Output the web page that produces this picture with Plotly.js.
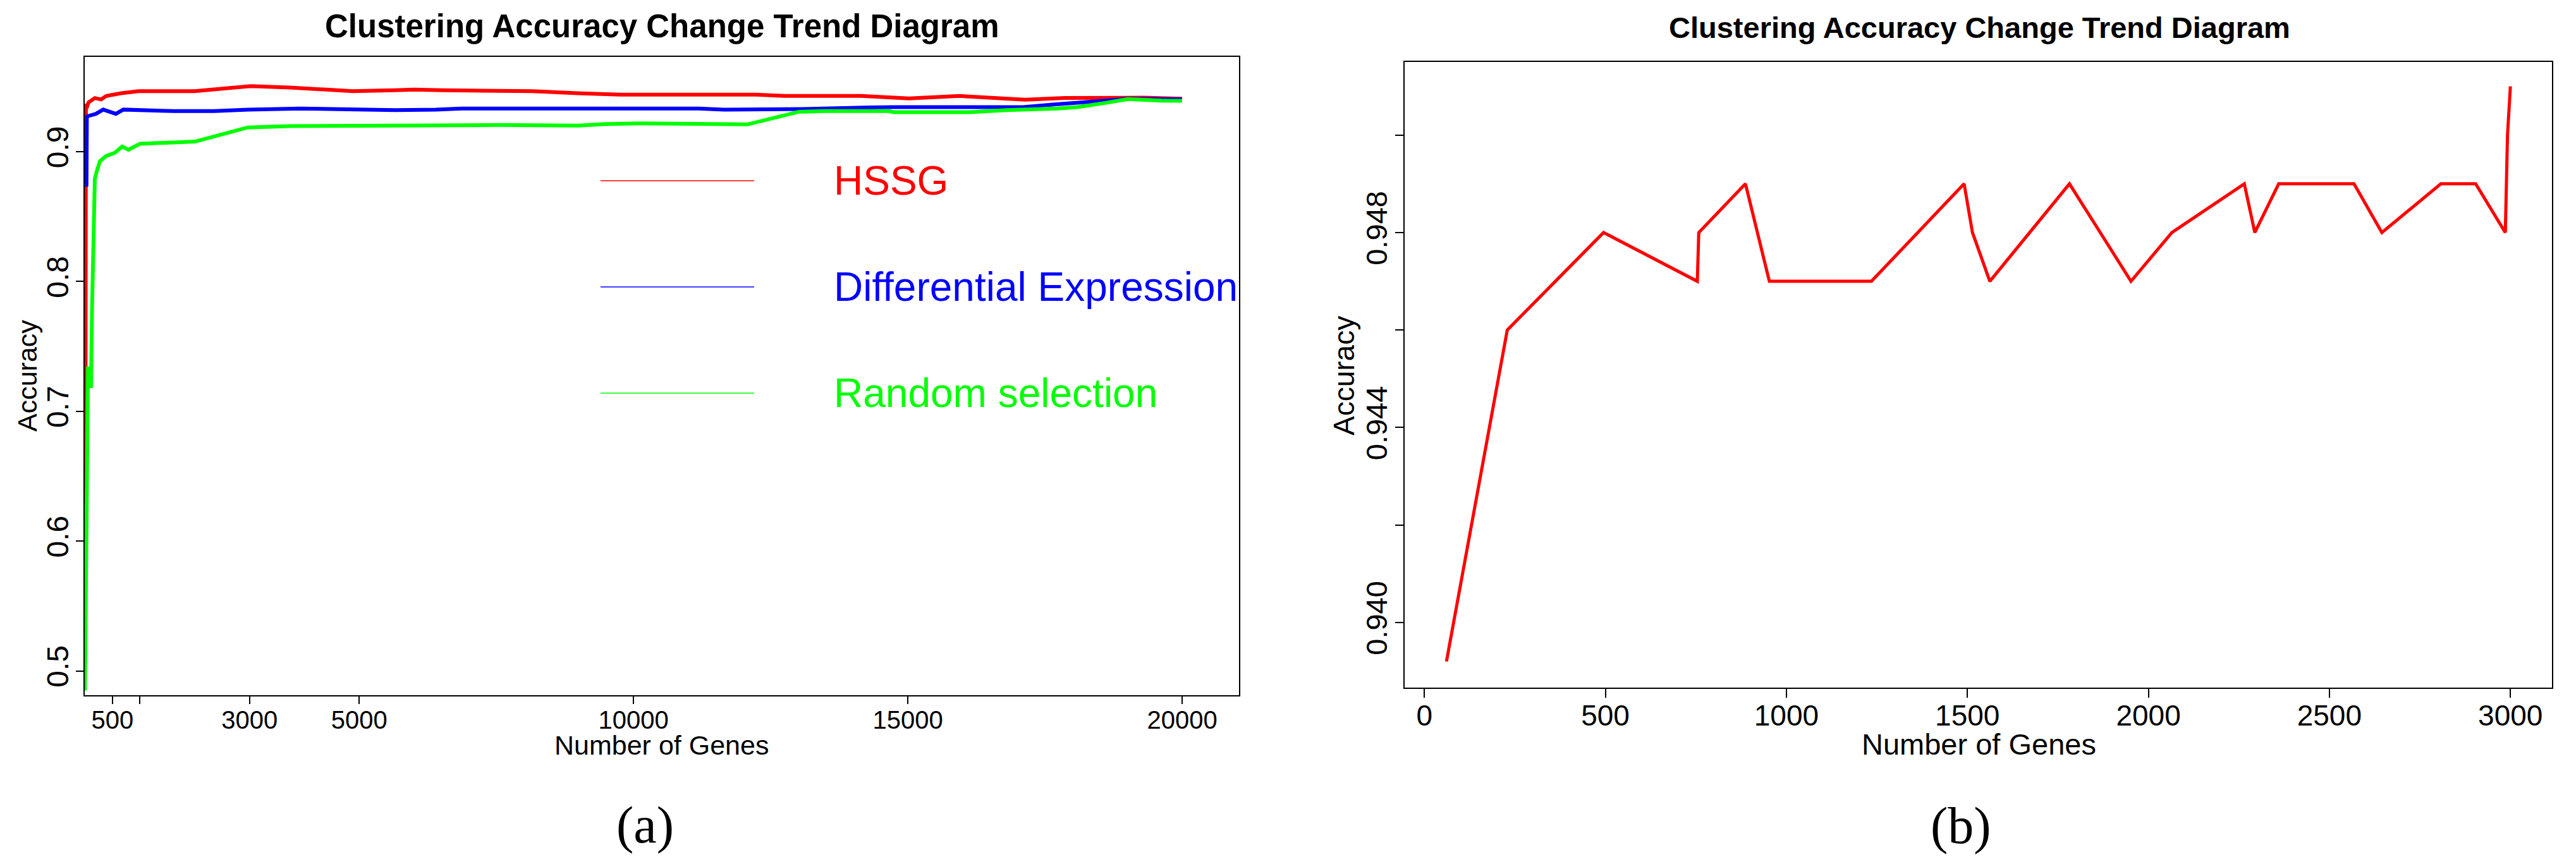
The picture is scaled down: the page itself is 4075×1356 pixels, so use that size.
<!DOCTYPE html>
<html>
<head>
<meta charset="utf-8">
<script src="https://cdn.plot.ly/plotly-3.0.1.min.js"></script>
<style>html,body{margin:0;padding:0;background:#fff;}#chart{width:4075px;height:1356px;}</style>
</head>
<body>
<div id="chart"></div>
<script>
// ---------- Panel (a): accuracy vs number of genes ----------
const genesHSSG = [8, 18, 30, 64, 180, 295, 390, 660, 980, 2000, 3020, 3730, 4880, 5650, 6000, 6500, 7440, 8160, 8980, 9760, 12230, 12750, 14150, 15020, 15950, 17140, 17860, 19300, 20000];
const accHSSG   = [0.628, 0.937, 0.9335, 0.938, 0.9414, 0.9403, 0.943, 0.9451, 0.9467, 0.9467, 0.9506, 0.9495, 0.9467, 0.9474, 0.9479, 0.9474, 0.9467, 0.9467, 0.9451, 0.944, 0.944, 0.943, 0.943, 0.9411, 0.943, 0.9401, 0.9414, 0.9417, 0.9409];

const genesDE = [28, 35, 64, 199, 333, 564, 699, 968, 1621, 2351, 2966, 3926, 5655, 6395, 6862, 11190, 11653, 13219, 13960, 14300, 14744, 17100, 17675, 18140, 18600, 19015, 20000];
const accDE   = [0.873, 0.927, 0.9276, 0.9292, 0.9325, 0.9292, 0.9325, 0.9321, 0.9313, 0.9313, 0.9325, 0.9333, 0.9321, 0.9325, 0.9333, 0.9333, 0.9325, 0.933, 0.9333, 0.9341, 0.9344, 0.9344, 0.9365, 0.9376, 0.9394, 0.9409, 0.9403];

const genesRandom = [0, 18, 33, 45, 56, 95, 110, 130, 160, 180, 218, 274, 390, 544, 678, 793, 1006, 2004, 2966, 3734, 5655, 7531, 8984, 9497, 10117, 12079, 13010, 13462, 14650, 14744, 16130, 16800, 17727, 18086, 18600, 19015, 19630, 20000];
const accRandom   = [0.485, 0.589, 0.662, 0.718, 0.733, 0.733, 0.718, 0.780, 0.826, 0.879, 0.8854, 0.8927, 0.8968, 0.8992, 0.904, 0.9016, 0.9062, 0.9078, 0.9187, 0.9198, 0.9201, 0.9206, 0.9201, 0.9214, 0.9219, 0.9211, 0.9308, 0.9313, 0.9313, 0.9305, 0.9305, 0.9321, 0.9333, 0.9344, 0.9376, 0.9406, 0.9394, 0.9393];

const ticksA_x = [500, 1000, 3000, 5000, 10000, 15000, 20000];
const ticksA_xText = ['500', '', '3000', '5000', '10000', '15000', '20000'];
const ticksA_y = [0.5, 0.6, 0.7, 0.8, 0.9];
const ticksA_yText = ['0.5', '0.6', '0.7', '0.8', '0.9'];

// ---------- Panel (b): HSSG, first 3000 genes ----------
const genesZoom = [61, 229, 495, 754, 758, 887, 953, 1235, 1491, 1514, 1562, 1782, 1952, 2065, 2265, 2294, 2360, 2568, 2645, 2808, 2904, 2986, 2992, 3000];
const accZoom   = [0.9392, 0.946, 0.948, 0.947, 0.948, 0.949, 0.947, 0.947, 0.949, 0.948, 0.947, 0.949, 0.947, 0.948, 0.949, 0.948, 0.949, 0.949, 0.948, 0.949, 0.949, 0.948, 0.950, 0.951];

const ticksB_x = [0, 500, 1000, 1500, 2000, 2500, 3000];
const ticksB_y = [0.940, 0.942, 0.944, 0.946, 0.948, 0.950];
const ticksB_yText = ['0.940', '', '0.944', '', '0.948', ''];

const seriesNames = ['HSSG', 'Differential Expression', 'Random selection'];
const seriesColors = ['#ff0000', '#0000ff', '#00ff00'];

const titleText = 'Clustering Accuracy Change Trend Diagram';
const xTitleText = 'Number of Genes';
const yTitleText = 'Accuracy';

// ---------- figure ----------
const SANS = 'Liberation Sans, Arial, Helvetica, sans-serif';
const SERIF = 'Liberation Serif, Times New Roman, serif';

const traces = [
  {x: genesHSSG, y: accHSSG, name: seriesNames[0], xaxis: 'x', yaxis: 'y', mode: 'lines', line: {color: seriesColors[0], width: 6}},
  {x: genesDE, y: accDE, name: seriesNames[1], xaxis: 'x', yaxis: 'y', mode: 'lines', line: {color: seriesColors[1], width: 6}},
  {x: genesRandom, y: accRandom, name: seriesNames[2], xaxis: 'x', yaxis: 'y', mode: 'lines', line: {color: seriesColors[2], width: 6}},
  {x: genesZoom, y: accZoom, name: 'HSSG', xaxis: 'x2', yaxis: 'y2', mode: 'lines', line: {color: seriesColors[0], width: 5}}
];

function axisBase(extra) {
  return Object.assign({
    showline: true, mirror: true, linecolor: '#000', linewidth: 2,
    ticks: 'outside', tickcolor: '#000', tickwidth: 2,
    showgrid: false, zeroline: false, fixedrange: true,
    tickmode: 'array'
  }, extra);
}

const layout = {
  width: 4075, height: 1356,
  margin: {l: 0, r: 0, t: 0, b: 0, pad: 0},
  paper_bgcolor: '#fff', plot_bgcolor: '#fff',
  showlegend: false,
  xaxis: axisBase({domain: [133.5/4075, 1960/4075], range: [-10, 21037], tickvals: ticksA_x, ticktext: ticksA_xText, ticklen: 12, ticklabelstandoff: -9, tickfont: {family: SANS, size: 40, color: '#000'}, anchor: 'y'}),
  yaxis: axisBase({domain: [1 - 1100/1356, 1 - 90/1356], range: [0.4813, 0.9731], tickvals: ticksA_y, ticktext: ticksA_yText, ticklen: 12, tickangle: -90, ticklabelstandoff: -8, tickfont: {family: SANS, size: 48, color: '#000'}, anchor: 'x'}),
  xaxis2: axisBase({domain: [2222.3/4075, 4036.5/4075], range: [-54, 3114], tickvals: ticksB_x, ticktext: ticksB_x.map(String), ticklen: 14, ticklabelstandoff: -12, tickfont: {family: SANS, size: 46, color: '#000'}, anchor: 'y2'}),
  yaxis2: axisBase({domain: [1 - 1088.3/1356, 1 - 98/1356], range: [0.93866, 0.9515], tickvals: ticksB_y, ticktext: ticksB_yText, ticklen: 13, tickangle: -90, ticklabelstandoff: -5, tickfont: {family: SANS, size: 47, color: '#000'}, anchor: 'x2'}),
  annotations: [
    {text: titleText, xref: 'paper', yref: 'paper', x: 1047/4075, y: 1 - 41.5/1356, xanchor: 'center', yanchor: 'middle', showarrow: false, font: {family: SANS, size: 51, weight: 'bold', color: '#000'}},
    {text: titleText, xref: 'paper', yref: 'paper', x: 3131/4075, y: 1 - 43/1356, xanchor: 'center', yanchor: 'middle', showarrow: false, font: {family: SANS, size: 47, weight: 'bold', color: '#000'}},
    {text: xTitleText, xref: 'paper', yref: 'paper', x: 1046/4075, y: 1 - 1179/1356, xanchor: 'center', yanchor: 'middle', showarrow: false, font: {family: SANS, size: 43, color: '#000'}},
    {text: xTitleText, xref: 'paper', yref: 'paper', x: 3130/4075, y: 1 - 1177/1356, xanchor: 'center', yanchor: 'middle', showarrow: false, font: {family: SANS, size: 47, color: '#000'}},
    {text: yTitleText, xref: 'paper', yref: 'paper', x: 43/4075, y: 1 - 595/1356, xanchor: 'center', yanchor: 'middle', textangle: -90, showarrow: false, font: {family: SANS, size: 43, color: '#000'}},
    {text: yTitleText, xref: 'paper', yref: 'paper', x: 2126/4075, y: 1 - 595/1356, xanchor: 'center', yanchor: 'middle', textangle: -90, showarrow: false, font: {family: SANS, size: 46, color: '#000'}},
    {text: '(a)', xref: 'paper', yref: 'paper', x: 1020/4075, y: 1 - 1305/1356, xanchor: 'center', yanchor: 'middle', showarrow: false, font: {family: SERIF, size: 82, color: '#000'}},
    {text: '(b)', xref: 'paper', yref: 'paper', x: 3102/4075, y: 1 - 1306/1356, xanchor: 'center', yanchor: 'middle', showarrow: false, font: {family: SERIF, size: 82, color: '#000'}}
  ],
  shapes: []
};

// legend of panel (a): short coloured lines with coloured labels
const legendRowsY = [286, 454, 622];
seriesNames.forEach(function (name, i) {
  const yy = 1 - legendRowsY[i]/1356;
  layout.shapes.push({type: 'line', xref: 'paper', yref: 'paper', x0: 950/4075, x1: 1193/4075, y0: yy, y1: yy, line: {color: seriesColors[i], width: 1.5}});
  layout.annotations.push({text: name, xref: 'paper', yref: 'paper', x: 1317/4075, y: yy, xanchor: 'left', yanchor: 'middle', showarrow: false, font: {family: SANS, size: 64, color: seriesColors[i]}});
});

Plotly.newPlot('chart', traces, layout, {displayModeBar: false, staticPlot: true});
</script>
</body>
</html>
